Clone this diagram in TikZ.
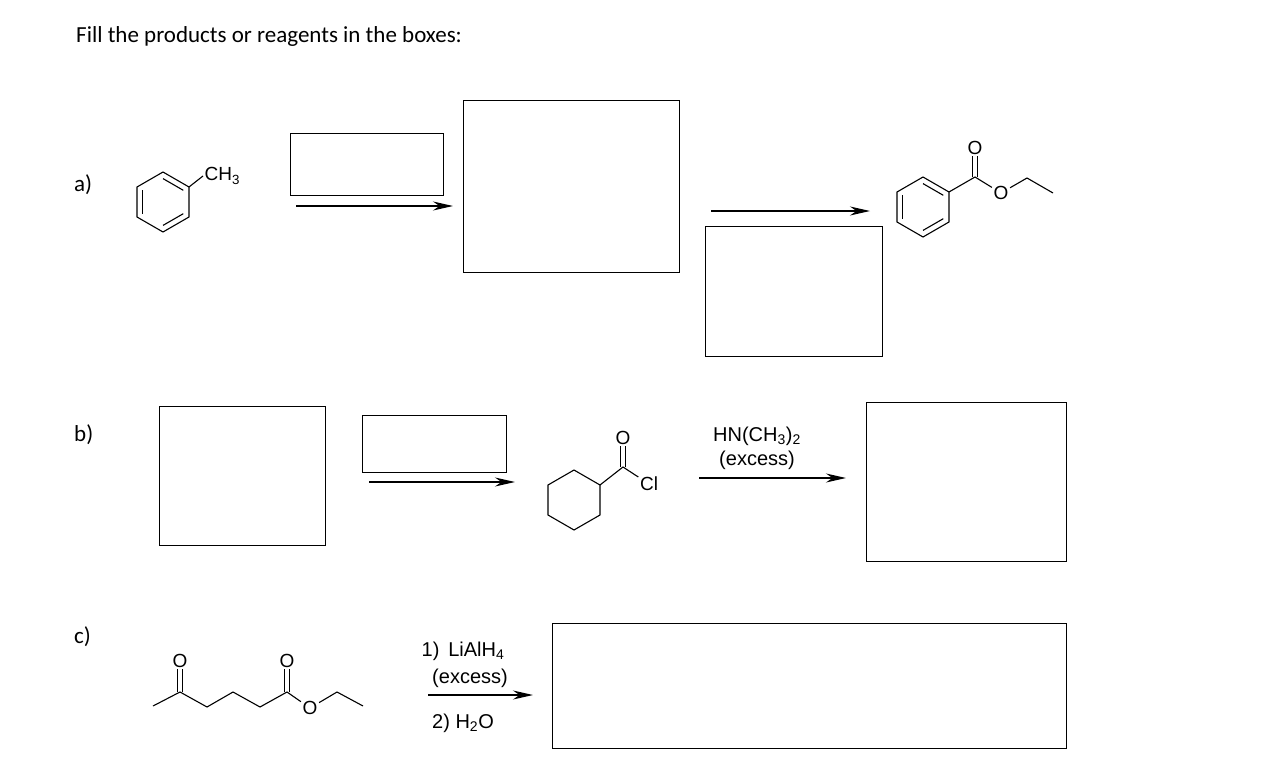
\documentclass[tikz,border=0pt]{standalone}
\usepackage{fontspec}
\setmainfont{Carlito}
\newfontfamily\chemfont{Liberation Sans}
\usetikzlibrary{positioning, arrows.meta, calc}

\begin{document}
\begin{tikzpicture}[
    x=1pt, y=-1pt,
    box/.style={draw, line width=1pt},
    arr/.style={-{Stealth[length=20pt, width=9pt]}, line width=1.4pt},
    bond/.style={line width=1.1pt},
    atom/.style={font=\chemfont\fontsize{19}{19}\selectfont, inner sep=1.5pt},
    lbl/.style={font=\fontsize{23}{23}\selectfont, anchor=west, inner sep=0pt},
    reag/.style={font=\chemfont\fontsize{20}{24}\selectfont, inner sep=1pt},
]
\useasboundingbox (0,0) rectangle (1284,773);

% Title and part labels
\node[lbl] (title) at (76,36) {Fill the products or reagents in the boxes:};
\node[lbl] (la) at (74,185) {a)};
\node[lbl] (lb) at (74,435) {b)};
\node[lbl] (lc) at (74,637) {c)};

% ---------- a) ----------
% toluene
\coordinate (ra) at (163,202);
\foreach \i in {0,...,5} \coordinate (ra\i) at ($(ra)+(90+60*\i:30)$);
\draw[bond] (ra0)--(ra1)--(ra2)--(ra3)--(ra4)--(ra5)--cycle;
\foreach \a/\b in {3/4,5/0,1/2}
  \draw[bond] ($(ra)!0.78!(ra\a)$) -- ($(ra)!0.78!(ra\b)$);
\node[atom, anchor=west] (ch3) at (203,176) {CH\textsubscript{3}};
\draw[bond] (ra4) -- (ch3.west);

\node[box, minimum width=153pt, minimum height=62pt] (ba1) at (366.5,164) {};
\coordinate (aa1s) at (296,206); \coordinate (aa1e) at (453,206);
\draw[arr] (aa1s) -- (aa1e);
\node[box, minimum width=216pt, minimum height=171pt] (ba2) at (571,186.5) {};
\coordinate (aa2s) at (711,211); \coordinate (aa2e) at (870,211);
\draw[arr] (aa2s) -- (aa2e);
\node[box, minimum width=177pt, minimum height=130pt] (ba3) at (793.5,291) {};

% ethyl benzoate
\coordinate (rb) at (923,207);
\foreach \i in {0,...,5} \coordinate (rb\i) at ($(rb)+(90+60*\i:30)$);
\draw[bond] (rb0)--(rb1)--(rb2)--(rb3)--(rb4)--(rb5)--cycle;
\foreach \a/\b in {3/4,5/0,1/2}
  \draw[bond] ($(rb)!0.78!(rb\a)$) -- ($(rb)!0.78!(rb\b)$);
\coordinate (cb) at (975,177);
\node[atom] (ob1) at (975,148) {O};
\node[atom] (ob2) at (1001,193) {O};
\coordinate (eb1) at (1027,178); \coordinate (eb2) at (1053,193);
\draw[bond] (rb4) -- (cb) -- (ob2) -- (eb1) -- (eb2);
\draw[bond] ([xshift=-2.5pt]cb) -- ([xshift=-2.5pt]ob1.south);
\draw[bond] ([xshift=2.5pt]cb) -- ([xshift=2.5pt]ob1.south);

% ---------- b) ----------
\node[box, minimum width=166pt, minimum height=139pt] (bb1) at (242,475.5) {};
\node[box, minimum width=144pt, minimum height=57pt] (bb2) at (434,443.5) {};
\coordinate (ab1s) at (369,482); \coordinate (ab1e) at (515,482);
\draw[arr] (ab1s) -- (ab1e);

% cyclohexanecarbonyl chloride
\coordinate (rc) at (574,500);
\foreach \i in {0,...,5} \coordinate (rc\i) at ($(rc)+(90+60*\i:30)$);
\draw[bond] (rc0)--(rc1)--(rc2)--(rc3)--(rc4)--(rc5)--cycle;
\coordinate (cc) at (623,467);
\node[atom] (oc) at (623,438) {O};
\node[atom] (cl) at (649,484) {Cl};
\draw[bond] (rc4) -- (cc) -- (cl);
\draw[bond] ([xshift=-2.5pt]cc) -- ([xshift=-2.5pt]oc.south);
\draw[bond] ([xshift=2.5pt]cc) -- ([xshift=2.5pt]oc.south);

\node[reag, align=center] (rgb) at (757,448) {HN(CH\textsubscript{3})\textsubscript{2}\\(excess)};
\coordinate (ab2s) at (699,478); \coordinate (ab2e) at (846,478);
\draw[arr] (ab2s) -- (ab2e);
\node[box, minimum width=200pt, minimum height=159pt] (bb3) at (966,481.5) {};

% ---------- c) ----------
\coordinate (k1) at (153,706); \coordinate (k2) at (180,692);
\node[atom] (ok) at (180,661) {O};
\coordinate (k3) at (207,707); \coordinate (k4) at (233,692);
\coordinate (k5) at (260,707); \coordinate (k6) at (287,692);
\node[atom] (oe1) at (287,661) {O};
\node[atom] (oe2) at (310,708) {O};
\coordinate (k7) at (337,692); \coordinate (k8) at (363,706);
\draw[bond] (k1) -- (k2) -- (k3) -- (k4) -- (k5) -- (k6) -- (oe2) -- (k7) -- (k8);
\draw[bond] ([xshift=-2.5pt]k2) -- ([xshift=-2.5pt]ok.south);
\draw[bond] ([xshift=2.5pt]k2) -- ([xshift=2.5pt]ok.south);
\draw[bond] ([xshift=-2.5pt]k6) -- ([xshift=-2.5pt]oe1.south);
\draw[bond] ([xshift=2.5pt]k6) -- ([xshift=2.5pt]oe1.south);

\node[reag] (rc1) at (463,651) {1)\, LiAlH\textsubscript{4}};
\node[reag] (rc2) at (470,678) {(excess)};
\coordinate (acs) at (428,695); \coordinate (ace) at (533,695);
\draw[arr] (acs) -- (ace);
\node[reag] (rc3) at (463,723) {2) H\textsubscript{2}O};
\node[box, minimum width=514pt, minimum height=125pt] (bc1) at (809,685.5) {};

\end{tikzpicture}
\end{document}
